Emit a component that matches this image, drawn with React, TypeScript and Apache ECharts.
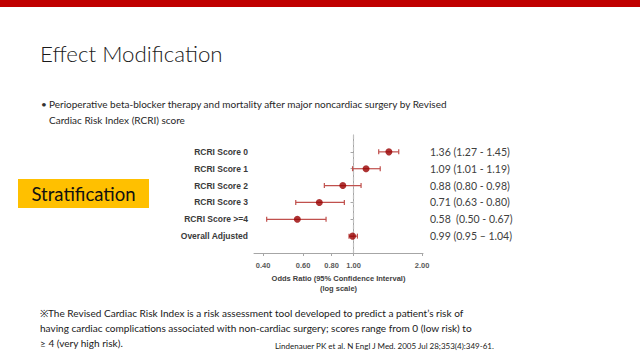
import React, { useEffect, useRef } from "react";
import * as echarts from "echarts";

const categories = ["RCRI Score 0", "RCRI Score 1", "RCRI Score 2", "RCRI Score 3", "RCRI Score >=4", "Overall Adjusted"];
const estimates = [1.43, 1.135, 0.897, 0.707, 0.566, 0.99];
const lower = [1.29, 0.99, 0.744, 0.557, 0.415, 0.955];
const upper = [1.58, 1.31, 1.079, 0.911, 0.757, 1.04];
const ciLabels = ["1.36 (1.27 - 1.45)", "1.09 (1.01 - 1.19)", "0.88 (0.80 - 0.98)", "0.71 (0.63 - 0.80)", "0.58  (0.50 - 0.67)", "0.99 (0.95 \u2013 1.04)"];
const tickValues = [0.4, 0.6, 0.8, 1.0, 2.0];
const axisMin = 0.365;
const axisMax = 2.02;

const titleText = "Effect Modification";
const bulletLines = [
  "Perioperative beta-blocker therapy and mortality after major noncardiac surgery by Revised",
  "Cardiac Risk Index (RCRI) score",
];
const footLines = [
  "\u203BThe Revised Cardiac Risk Index is a risk assessment tool developed to predict a patient\u2019s risk of",
  "having cardiac complications associated with non-cardiac surgery; scores range from 0 (low risk) to",
  "\u2265 4 (very high risk).",
];
const citation = "Lindenauer PK et al. N Engl J Med. 2005 Jul 28;353(4):349-61.";

export default function App() {
  const ref = useRef<HTMLDivElement>(null);
  useEffect(() => {
    const chart = echarts.init(ref.current!, undefined, { renderer: "svg" });
    const yCats = ["", ...categories, ""];
    const yRight = ["", ...ciLabels, ""];
    const ln = Math.log;
    const body = "Lato, 'Open Sans', sans-serif";
    chart.setOption({
      animation: false,
      backgroundColor: "#ffffff",
      grid: { left: 254, right: 217, top: 135, bottom: 107, containLabel: false },
      xAxis: {
        type: "value",
        min: ln(axisMin),
        max: ln(axisMax),
        splitLine: { show: false },
        axisLine: { show: true, lineStyle: { color: "#a6a6a6", width: 1 } },
        axisTick: { show: true, length: 3, customValues: tickValues.map(ln), lineStyle: { color: "#a6a6a6" } },
        axisLabel: {
          customValues: tickValues.map(ln),
          formatter: (v: number) => Math.exp(v).toFixed(2),
          fontSize: 7.5,
          fontWeight: "bold",
          color: "#595959",
          fontFamily: "Arial, 'Liberation Sans', sans-serif",
          margin: 8,
        },
        name: "Odds Ratio (95% Confidence Interval)\n(log scale)",
        nameLocation: "middle",
        nameGap: 20,
        nameTextStyle: {
          fontSize: 7.5,
          fontWeight: "bold",
          color: "#404040",
          lineHeight: 10,
          fontFamily: "Arial, 'Liberation Sans', sans-serif",
        },
      },
      yAxis: [
        {
          type: "category",
          data: yCats,
          inverse: true,
          boundaryGap: false,
          axisLine: { show: true, lineStyle: { color: "#a6a6a6", width: 1 } },
          axisTick: {
            show: true,
            length: 3,
            interval: (_i: number, v: string) => v !== "",
            lineStyle: { color: "#a6a6a6" },
          },
          axisLabel: {
            fontSize: 8.5,
            fontWeight: "bold",
            color: "#3a3a3a",
            fontFamily: "Arial, 'Liberation Sans', sans-serif",
            margin: 6,
          },
          splitLine: { show: false },
        },
        {
          type: "category",
          data: yRight,
          inverse: true,
          boundaryGap: false,
          position: "right",
          axisLine: { show: false },
          axisTick: { show: false },
          axisLabel: {
            fontSize: 10.5,
            color: "#404040",
            fontFamily: body,
            margin: 7,
          },
          splitLine: { show: false },
        },
      ],
      series: [
        {
          type: "custom",
          yAxisIndex: 0,
          data: categories.map((c, i) => [ln(lower[i]), ln(upper[i]), c]),
          encode: { x: [0, 1], y: 2 },
          renderItem: (_p: any, api: any) => {
            const y = api.value(2);
            const a = api.coord([api.value(0), y]);
            const b = api.coord([api.value(1), y]);
            const st = { stroke: "#c0504d", lineWidth: 1.2 };
            return {
              type: "group",
              children: [
                { type: "line", shape: { x1: a[0], y1: a[1], x2: b[0], y2: b[1] }, style: st },
                { type: "line", shape: { x1: a[0], y1: a[1] - 2.5, x2: a[0], y2: a[1] + 2.5 }, style: st },
                { type: "line", shape: { x1: b[0], y1: b[1] - 2.5, x2: b[0], y2: b[1] + 2.5 }, style: st },
              ],
            };
          },
          z: 2,
        },
        {
          type: "scatter",
          yAxisIndex: 0,
          symbol: "circle",
          symbolSize: 7,
          itemStyle: { color: "#990000" },
          data: categories.map((c, i) => [ln(estimates[i]), c]),
          z: 3,
          markLine: {
            silent: true,
            symbol: "none",
            label: { show: false },
            lineStyle: { color: "#bfbfbf", type: [4, 2], width: 1.2 },
            data: [{ xAxis: ln(1) }],
            z: 1,
          },
        },
      ],
      graphic: [
        { type: "rect", shape: { x: 0, y: 0, width: 640, height: 7 }, style: { fill: "#c00000" } },
        {
          type: "text",
          x: 40,
          y: 53,
          style: {
            text: titleText,
            fontSize: 22.3,
            fontWeight: 300,
            fontFamily: body,
            fill: "#1a1a1a",
            verticalAlign: "middle",
          },
        },
        { type: "text", x: 41, y: 104, style: { text: "\u2022", fontSize: 10, fill: "#333", verticalAlign: "middle", fontFamily: body } },
        ...bulletLines.map((t, i) => ({
          type: "text",
          x: 49,
          y: 104 + i * 16,
          style: { text: t, fontSize: 10, fill: "#262626", verticalAlign: "middle", fontFamily: body },
        })),
        { type: "rect", shape: { x: 18, y: 179, width: 131, height: 29 }, style: { fill: "#ffc000" } },
        {
          type: "text",
          x: 83.5,
          y: 193.5,
          style: {
            text: "Stratification",
            fontSize: 18.5,
            fill: "#111",
            align: "center",
            verticalAlign: "middle",
            fontFamily: body,
          },
        },
        ...footLines.map((t, i) => ({
          type: "text",
          x: 40,
          y: 313 + i * 15,
          style: { text: t, fontSize: 10.05, fill: "#1a1a1a", verticalAlign: "middle", fontFamily: body },
        })),
        {
          type: "text",
          x: 275,
          y: 346,
          style: { text: citation, fontSize: 8, fill: "#1a1a1a", verticalAlign: "middle", fontFamily: body },
        },
      ],
    });
    return () => chart.dispose();
  }, []);
  return <div ref={ref} style={{ width: 640, height: 360, position: "fixed", left: 0, top: 0 }} />;
}
